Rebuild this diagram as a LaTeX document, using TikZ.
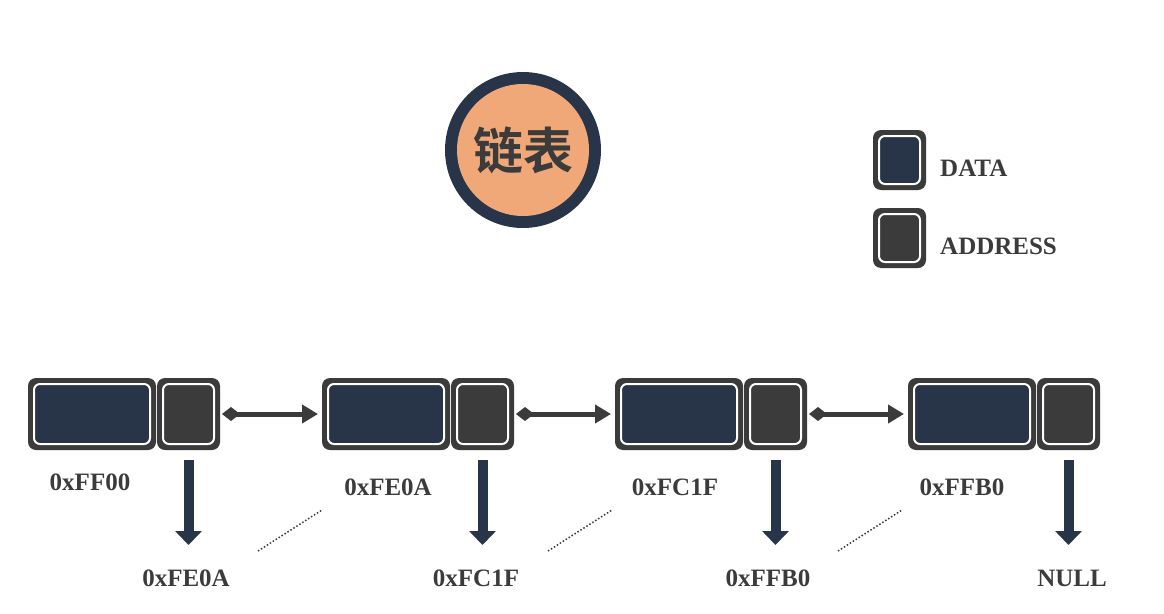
\documentclass[tikz,border=0pt]{standalone}
\usepackage{fontspec}
\setmainfont{Liberation Serif}
\newfontfamily\cjk{Noto Sans CJK SC}[BoldFont={* Bold}]
\usetikzlibrary{arrows.meta}
\definecolor{dk}{HTML}{3B3B3B}
\definecolor{navy}{HTML}{283447}
\definecolor{org}{HTML}{F0A878}
\tikzset{
 lbl/.style={font=\fontsize{25}{25}\selectfont\bfseries, text=dk, inner sep=0pt},
 link/.style={draw=dk, line width=5pt, {Diamond[length=18pt,width=14pt]}-{Triangle[length=16pt,width=18pt]}},
 down/.style={draw=navy, line width=10pt, -{Triangle[length=14pt,width=26pt]}},
 dots/.style={draw=dk, line width=1.5pt, dotted},
}
\newcommand{\cell}[6]{% x1 y1 x2 y2 color name
 \fill[dk, rounded corners=8pt] (#1,#2) rectangle (#3,#4);
 \draw[white, line width=2pt, fill=#5, rounded corners=6pt] (#1+6,#2+6) rectangle (#3-6,#4-6);
 \coordinate (#6) at ({(#1+#3)/2},{(#2+#4)/2});
}
\begin{document}
\begin{tikzpicture}[x=1pt,y=-1pt]
\useasboundingbox (0,0) rectangle (1164,613);
% title circle
\fill[navy] (523,150) circle (78);
\fill[org] (523,150) circle (66);
\node[font=\cjk\bfseries\fontsize{50}{50}\selectfont, text=dk] (title) at (523,150) {链表};
% legend
\cell{873}{130}{926}{190}{navy}{legD}
\cell{873}{208}{926}{268}{dk}{legA}
\node[lbl, anchor=west] (tD) at (940,168) {DATA};
\node[lbl, anchor=west] (tA) at (940,246) {ADDRESS};
% list nodes
\foreach \i/\x in {1/28,2/322,3/615,4/908}{
 \cell{\x}{378}{\x+128}{450}{navy}{d\i}
 \cell{\x+129}{378}{\x+192}{450}{dk}{a\i}
}
\coordinate (s1) at (222,414); \coordinate (e1) at (318,414);
\coordinate (s2) at (516,414); \coordinate (e2) at (611,414);
\coordinate (s3) at (809,414); \coordinate (e3) at (904,414);
\draw[link] (s1) -- (e1);
\draw[link] (s2) -- (e2);
\draw[link] (s3) -- (e3);
% address labels
\node[lbl] (n1) at (90,482) {0xFF00};
\node[lbl] (n2) at (388,487) {0xFE0A};
\node[lbl] (n3) at (675,487) {0xFC1F};
\node[lbl] (n4) at (962,487) {0xFFB0};
\node[lbl] (b1) at (186,578) {0xFE0A};
\node[lbl] (b2) at (476,578) {0xFC1F};
\node[lbl] (b3) at (768,578) {0xFFB0};
\node[lbl] (b4) at (1072,578) {NULL};
\foreach \i in {1,2,3,4}{
 \draw[down] ([yshift=-46pt]a\i) -- ([yshift=-131pt]a\i);
}
\draw[dots] (258,551) -- (322,510);
\draw[dots] (548,551) -- (612,510);
\draw[dots] (838,551) -- (902,510);
\end{tikzpicture}
\end{document}
